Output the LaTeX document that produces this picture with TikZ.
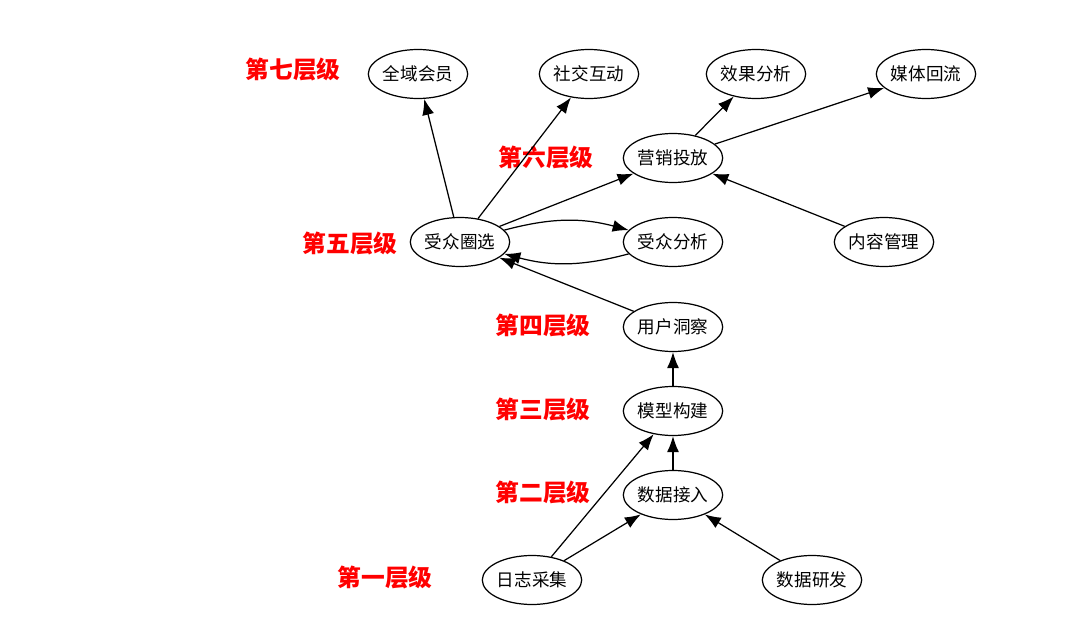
\documentclass[tikz,border=0pt]{standalone}
\usepackage{fontspec}
\setmainfont{Noto Sans CJK SC}
\usetikzlibrary{shapes.geometric,arrows.meta}
\begin{document}
\begin{tikzpicture}[x=0.02cm,y=-0.02cm,
  nd/.style={ellipse,draw,line width=0.7pt,minimum width=1.72cm,minimum height=0.98cm,inner sep=0pt,font=\fontsize{10}{12}\selectfont},
  lv/.style={text=red,font=\fontsize{13.5}{16}\selectfont\bfseries},
  ar/.style={-{Latex[length=3.2mm,width=2.4mm]},line width=0.7pt}]
\useasboundingbox (0,0) rectangle (1080,622);
\node[nd] (qy) at (418,74) {全域会员};
\node[nd] (sj) at (589,74) {社交互动};
\node[nd] (xg) at (756,74) {效果分析};
\node[nd] (mt) at (926,74) {媒体回流};
\node[nd] (yx) at (673,158) {营销投放};
\node[nd] (qx) at (460,242) {受众圈选};
\node[nd] (fx) at (673,242) {受众分析};
\node[nd] (nr) at (884,242) {内容管理};
\node[nd] (dc) at (673,327) {用户洞察};
\node[nd] (mx) at (673,411) {模型构建};
\node[nd] (jr) at (673,495) {数据接入};
\node[nd] (rz) at (532,580) {日志采集};
\node[nd] (yf) at (812,580) {数据研发};
\node[lv] (l7) at (293,70) {第七层级};
\node[lv] (l6) at (546,158) {第六层级};
\node[lv] (l5) at (350,244) {第五层级};
\node[lv] (l4) at (543,326) {第四层级};
\node[lv] (l3) at (543,410) {第三层级};
\node[lv] (l2) at (543,493) {第二层级};
\node[lv] (l1) at (385,578) {第一层级};
\draw[ar] (qx) -- (qy);
\draw[ar] (qx) -- (sj);
\draw[ar] (qx) -- (yx);
\draw[ar] (qx.15) to[bend left=15] (fx.165);
\draw[ar] (fx.195) to[bend left=15] (qx.-15);
\draw[ar] (dc) -- (qx);
\draw[ar] (yx) -- (xg);
\draw[ar] (yx) -- (mt);
\draw[ar] (nr) -- (yx);
\draw[ar] (mx) -- (dc);
\draw[ar] (jr) -- (mx);
\draw[ar] (rz) -- (mx);
\draw[ar] (rz) -- (jr);
\draw[ar] (yf) -- (jr);
\end{tikzpicture}
\end{document}
